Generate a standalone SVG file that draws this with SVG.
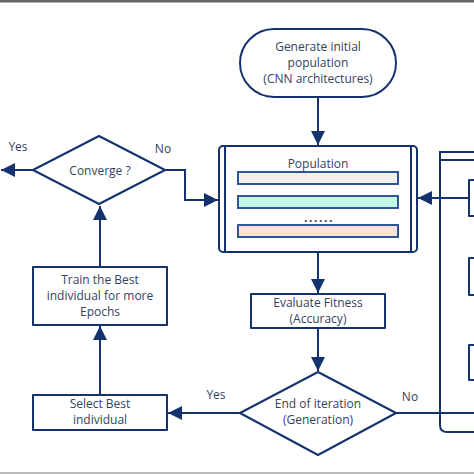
<svg xmlns="http://www.w3.org/2000/svg" width="474" height="474" viewBox="0 0 474 474">
<style>
.s{fill:#fff;stroke:#14336e;stroke-width:2;stroke-linejoin:round}
.l{fill:none;stroke:#14336e;stroke-width:2}
.t{font-family:"Open Sans","DejaVu Sans",sans-serif;font-size:12px;fill:#34425e;text-anchor:middle}
.bar{stroke:#2f5597;stroke-width:2}
</style>
<defs>
<marker id="ah" viewBox="0 0 10 10" refX="10" refY="5" markerWidth="7" markerHeight="7" markerUnits="strokeWidth" orient="auto">
<path d="M0,0 L10,5 L0,10 z" fill="#14336e"/>
</marker>
</defs>
<rect x="0" y="0" width="474" height="474" fill="#fff"/>
<rect x="0" y="0" width="474" height="2.5" fill="#666"/>
<rect x="0" y="472" width="474" height="2" fill="#bbb"/>

<g id="connectors">
<path class="l" d="M318,97 V145" marker-end="url(#ah)"/>
<path class="l" d="M318,252 V293" marker-end="url(#ah)"/>
<path class="l" d="M318,328 V371" marker-end="url(#ah)"/>
<path class="l" d="M240,413 H168" marker-end="url(#ah)"/>
<path class="l" d="M396,413 H474"/>
<path class="l" d="M100,395 V326" marker-end="url(#ah)"/>
<path class="l" d="M100,267 V206" marker-end="url(#ah)"/>
<path class="l" d="M33,170 H1" marker-end="url(#ah)"/>
<path class="l" d="M165,170 H185 V200 H218" marker-end="url(#ah)"/>
<path class="l" d="M474,198 H418" marker-end="url(#ah)"/>
<text class="t" x="18" y="151">Yes</text>
<text class="t" x="163" y="153">No</text>
<text class="t" x="216" y="399">Yes</text>
<text class="t" x="410" y="401">No</text>
</g>

<g id="generate">
<rect class="s" x="240" y="29" width="156" height="68" rx="34"/>
<text class="t" x="318" y="51">Generate initial</text>
<text class="t" x="318" y="67">population</text>
<text class="t" x="318" y="83">(CNN architectures)</text>
</g>

<g id="population">
<rect class="s" x="219" y="146" width="198" height="106" rx="4"/>
<line class="l" x1="225" y1="147" x2="225" y2="251"/>
<line class="l" x1="411" y1="147" x2="411" y2="251"/>
<text class="t" x="318" y="168">Population</text>
<rect class="bar" x="238" y="172" width="160" height="12" fill="#f0f0f2"/>
<rect class="bar" x="238" y="196" width="160" height="12" fill="#c4f7ea"/>
<text class="t" x="319" y="222" style="font-weight:bold;letter-spacing:1.6px">......</text>
<rect class="bar" x="238" y="225" width="160" height="12" fill="#fbe2d6"/>
</g>

<g id="evaluate">
<rect class="s" x="251" y="294" width="134" height="34"/>
<text class="t" x="318" y="307">Evaluate Fitness</text>
<text class="t" x="318" y="323">(Accuracy)</text>
</g>

<g id="end-iteration">
<polygon class="s" points="318,372 396,413 318,455 240,413"/>
<text class="t" x="318" y="408">End of iteration</text>
<text class="t" x="318" y="424">(Generation)</text>
</g>

<g id="select-best">
<rect class="s" x="33" y="395" width="134" height="35"/>
<text class="t" x="100" y="408">Select Best</text>
<text class="t" x="100" y="424">individual</text>
</g>

<g id="train-best">
<rect class="s" x="33" y="267" width="134" height="58"/>
<text class="t" x="100" y="284">Train the Best</text>
<text class="t" x="100" y="300">individual for more</text>
<text class="t" x="100" y="316">Epochs</text>
</g>

<g id="converge">
<polygon class="s" points="99,136 165,170 99,204 33,170"/>
<text class="t" x="100" y="175">Converge ?</text>
</g>

<g id="right-panel">
<path class="l" d="M474,152 H440 V425 Q440,432 447,432 H474"/>
<line class="l" x1="441" y1="160" x2="474" y2="160"/>
<rect class="s" x="469" y="180" width="20" height="36"/>
<rect class="s" x="469" y="258" width="20" height="37"/>
<rect class="s" x="469" y="345" width="20" height="35"/>
</g>
</svg>
